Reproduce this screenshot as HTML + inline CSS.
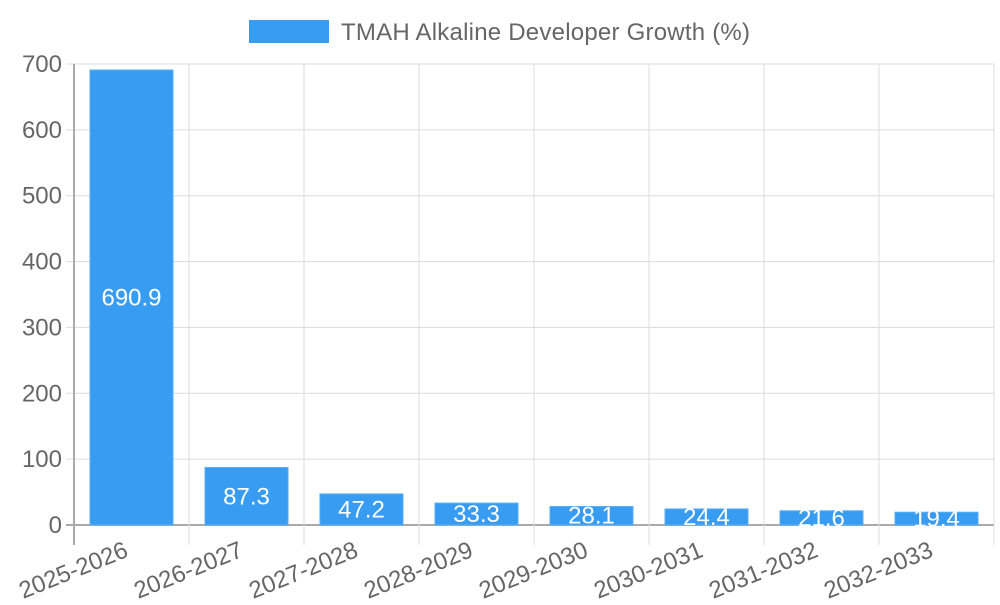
<!DOCTYPE html>
<html><head><meta charset="utf-8"><style>
body{margin:0;background:#fff;}
svg{font-family:"Liberation Sans",sans-serif;}
</style></head><body>
<svg id="c" width="1000" height="600">
<g>
<rect x="249" y="20" width="80" height="23" fill="#389cf2"/>
<text x="341" y="40" font-size="24" textLength="409" fill="#666">TMAH Alkaline Developer Growth (%)</text>
</g>
</svg>
<script>
const categories=["2025-2026","2026-2027","2027-2028","2028-2029","2029-2030","2030-2031","2031-2032","2032-2033"];
const values=[690.9,87.3,47.2,33.3,28.1,24.4,21.6,19.4];
const yTicks=[0,100,200,300,400,500,600,700];
const svg=document.getElementById('c');
const NS='http://www.w3.org/2000/svg';
const L=74,R=994,T=64,B=525,yMax=700;
const y=v=>B-(v/yMax)*(B-T);
const bw=(R-L)/categories.length;
const x=i=>L+i*bw;
function mk(t,a){const e=document.createElementNS(NS,t);for(const k in a)e.setAttribute(k,a[k]);svg.appendChild(e);return e;}
yTicks.forEach(v=>{
 const g=mk('line',{x1:66,x2:R,y1:y(v),y2:y(v),stroke:v===0?'#aaa':'#dcdcdc','stroke-width':v===0?2:1});
 
 
 const t=mk('text',{x:62,y:y(v)+8,'text-anchor':'end','font-size':24,fill:'#666'});t.textContent=v;
 
 
});
for(let i=0;i<=categories.length;i++){
 const g=mk('line',{x1:x(i),x2:x(i),y1:T,y2:B+20,stroke:i===0?'#aaa':'#dcdcdc','stroke-width':i===0?2:1});
 
 
}
categories.forEach((c,i)=>{
 const bx=x(i)+16,w=bw-32,top=y(values[i]);
 const r=mk('rect',{x:bx,y:top,width:w,height:B-top,fill:'#389cf2',stroke:'#5aaef5','stroke-width':1});
 
 
 const vt=mk('text',{x:bx+w/2,y:(top+B)/2+8,'text-anchor':'middle','font-size':24,fill:'#fff'});vt.textContent=values[i];
 
 
 const cx=x(i)+bw/2-2,cy=B+31;
 const t=mk('text',{x:cx,y:cy,'text-anchor':'end','font-size':24,fill:'#666',transform:`rotate(-22 ${cx} ${cy})`});
 t.textContent=c;
 
 
});
</script>
</body></html>
